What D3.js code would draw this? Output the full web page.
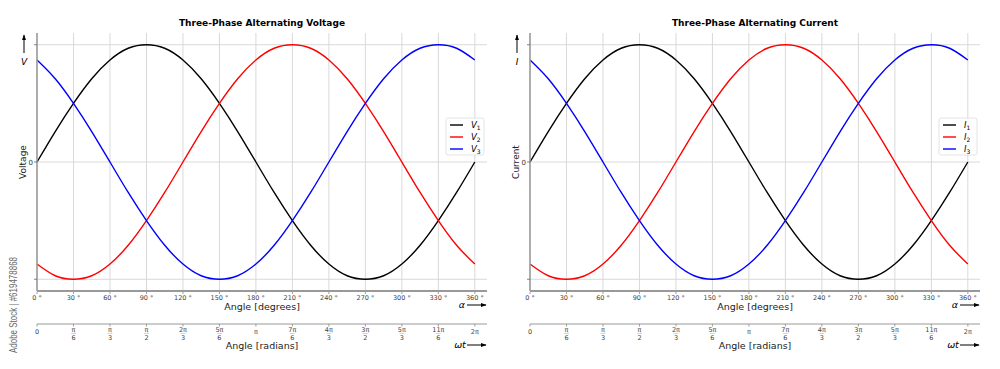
<!DOCTYPE html>
<html>
<head>
<meta charset="utf-8">
<script src="https://cdn.jsdelivr.net/npm/d3@7"></script>
<style>
  body { margin: 0; background: #fff; }
  svg { font-family: "DejaVu Sans", sans-serif; }
</style>
</head>
<body>
<script>
// angles in degrees, sampled every 15 degrees
const angles = [0, 15, 30, 45, 60, 75, 90, 105, 120, 135, 150, 165, 180,
    195, 210, 225, 240, 255, 270, 285, 300, 315, 330, 345, 360]

// values (normalised to peak = 1)
const phase1 = [0, 0.26, 0.5, 0.71, 0.87, 0.97, 1, 0.97, 0.87, 0.71, 0.5, 0.26, 0,
    -0.26, -0.5, -0.71, -0.87, -0.97, -1, -0.97, -0.87, -0.71, -0.5, -0.26, 0]
const phase2 = [-0.87, -0.97, -1, -0.97, -0.87, -0.71, -0.5, -0.26, 0, 0.26, 0.5, 0.71, 0.87,
    0.97, 1, 0.97, 0.87, 0.71, 0.5, 0.26, 0, -0.26, -0.5, -0.71, -0.87]
const phase3 = [0.87, 0.71, 0.5, 0.26, 0, -0.26, -0.5, -0.71, -0.87, -0.97, -1, -0.97, -0.87,
    -0.71, -0.5, -0.26, 0, 0.26, 0.5, 0.71, 0.87, 0.97, 1, 0.97, 0.87]

const colors = ['#000000', '#ff0000', '#0000ff']

const degTicks = [0, 30, 60, 90, 120, 150, 180, 210, 240, 270, 300, 330, 360]
const radTicks = [
    { num: '0', den: null }, { num: 'π', den: '6' }, { num: 'π', den: '3' },
    { num: 'π', den: '2' }, { num: '2π', den: '3' }, { num: '5π', den: '6' },
    { num: 'π', den: null }, { num: '7π', den: '6' }, { num: '4π', den: '3' },
    { num: '3π', den: '2' }, { num: '5π', den: '3' }, { num: '11π', den: '6' },
    { num: '2π', den: null }
]

const panels = [
    { title: 'Three-Phase Alternating Voltage', ylabel: 'Voltage', sym: 'V', left: 37 },
    { title: 'Three-Phase Alternating Current', ylabel: 'Current', sym: 'I', left: 530 }
]

const W = 1000, H = 369
const svg = d3.select('body').append('svg').attr('width', W).attr('height', H)

const defs = svg.append('defs')
defs.append('marker')
    .attr('id', 'arr')
    .attr('viewBox', '0 0 10 10')
    .attr('refX', 9).attr('refY', 5)
    .attr('markerWidth', 6).attr('markerHeight', 6)
    .attr('orient', 'auto')
    .append('path').attr('d', 'M0,1.5 L10,5 L0,8.5 Z').attr('fill', '#000')

const y = d3.scaleLinear().domain([-1.1, 1.1]).range([291, 33])

panels.forEach(p => {
    const x = d3.scaleLinear().domain([0, 370]).range([p.left, p.left + 450])
    const g = svg.append('g')
    const x0 = x.range()[0], x1 = x.range()[1]

    // grid
    g.append('g').selectAll('line').data(degTicks).enter().append('line')
        .attr('x1', d => x(d)).attr('x2', d => x(d))
        .attr('y1', y.range()[1]).attr('y2', y.range()[0])
        .attr('stroke', '#d9d9d9').attr('stroke-width', 1)
    g.append('g').selectAll('line').data([-1, 0, 1]).enter().append('line')
        .attr('x1', x0).attr('x2', x1)
        .attr('y1', d => y(d)).attr('y2', d => y(d))
        .attr('stroke', '#d9d9d9').attr('stroke-width', 1)

    // curves
    const line = d3.line()
        .x((d, i) => x(angles[i]))
        .y(d => y(d))
        .curve(d3.curveNatural)
    ;[phase1, phase2, phase3].forEach((s, i) => {
        g.append('path').datum(s)
            .attr('d', line)
            .attr('fill', 'none')
            .attr('stroke', colors[i])
            .attr('stroke-width', 1.4)
    })

    // y axis
    g.append('line').attr('x1', x0).attr('x2', x0)
        .attr('y1', y.range()[1]).attr('y2', y.range()[0])
        .attr('stroke', '#999').attr('stroke-width', 1.5)
    g.append('g').selectAll('line').data([-1, 0, 1]).enter().append('line')
        .attr('x1', x0 - 3).attr('x2', x0)
        .attr('y1', d => y(d)).attr('y2', d => y(d))
        .attr('stroke', '#666').attr('stroke-width', 0.8)
    g.append('text').attr('x', x0 - 4).attr('y', y(0) + 2.5)
        .attr('text-anchor', 'end').attr('font-size', 7).attr('fill', '#333').text('0')
    g.append('text')
        .attr('transform', `translate(${x0 - 11},${y(0)}) rotate(-90)`)
        .attr('text-anchor', 'middle').attr('font-size', 9).attr('fill', '#222')
        .text(p.ylabel)
    g.append('line').attr('x1', x0 - 13).attr('x2', x0 - 13)
        .attr('y1', 53).attr('y2', 35)
        .attr('stroke', '#000').attr('stroke-width', 1)
        .attr('marker-end', 'url(#arr)')
    g.append('text').attr('x', x0 - 13).attr('y', 65)
        .attr('text-anchor', 'middle').attr('font-size', 9)
        .attr('font-style', 'italic').text(p.sym)

    // degree axis
    g.append('line').attr('x1', x0).attr('x2', x1)
        .attr('y1', 291).attr('y2', 291)
        .attr('stroke', '#999').attr('stroke-width', 2)
    g.append('g').selectAll('line').data(degTicks).enter().append('line')
        .attr('x1', d => x(d)).attr('x2', d => x(d))
        .attr('y1', 292).attr('y2', 294)
        .attr('stroke', '#888').attr('stroke-width', 0.8)
    g.append('g').selectAll('text').data(degTicks).enter().append('text')
        .attr('x', d => x(d)).attr('y', 300)
        .attr('text-anchor', 'middle').attr('font-size', 6.5).attr('fill', '#444')
        .text(d => d + ' °')
    g.append('text').attr('x', (x0 + x1) / 2).attr('y', 310)
        .attr('text-anchor', 'middle').attr('font-size', 9.5).attr('fill', '#222')
        .text('Angle [degrees]')
    g.append('text').attr('x', x1 - 25).attr('y', 308)
        .attr('text-anchor', 'middle').attr('font-size', 9.5)
        .attr('font-style', 'italic').text('α')
    g.append('line').attr('x1', x1 - 20).attr('x2', x1 - 1)
        .attr('y1', 305).attr('y2', 305)
        .attr('stroke', '#000').attr('stroke-width', 1)
        .attr('marker-end', 'url(#arr)')

    // radian axis
    g.append('line').attr('x1', x0).attr('x2', x1)
        .attr('y1', 324).attr('y2', 324)
        .attr('stroke', '#999').attr('stroke-width', 1.2)
    g.append('g').selectAll('line').data(degTicks).enter().append('line')
        .attr('x1', d => x(d)).attr('x2', d => x(d))
        .attr('y1', 324).attr('y2', 326.5)
        .attr('stroke', '#888').attr('stroke-width', 0.8)
    const rt = g.append('g').selectAll('g').data(radTicks).enter().append('g')
        .attr('transform', (d, i) => `translate(${x(degTicks[i])},0)`)
    rt.append('text')
        .attr('y', d => d.den ? 332 : 334)
        .attr('text-anchor', 'middle').attr('font-size', 6.5).attr('fill', '#444')
        .text(d => d.num)
    rt.filter(d => d.den).append('line')
        .attr('x1', -2.5).attr('x2', 2.5).attr('y1', 333.5).attr('y2', 333.5)
        .attr('stroke', '#aaa').attr('stroke-width', 0.5)
    rt.filter(d => d.den).append('text')
        .attr('y', 340)
        .attr('text-anchor', 'middle').attr('font-size', 6.5).attr('fill', '#444')
        .text(d => d.den)
    g.append('text').attr('x', (x0 + x1) / 2).attr('y', 349)
        .attr('text-anchor', 'middle').attr('font-size', 9.5).attr('fill', '#222')
        .text('Angle [radians]')
    g.append('text').attr('x', x1 - 27).attr('y', 348)
        .attr('text-anchor', 'middle').attr('font-size', 9.5)
        .attr('font-style', 'italic').text('ωt')
    g.append('line').attr('x1', x1 - 20).attr('x2', x1 - 1)
        .attr('y1', 345).attr('y2', 345)
        .attr('stroke', '#000').attr('stroke-width', 1)
        .attr('marker-end', 'url(#arr)')

    // title
    g.append('text').attr('x', (x0 + x1) / 2).attr('y', 26)
        .attr('text-anchor', 'middle').attr('font-size', 9)
        .attr('font-weight', 'bold').text(p.title)

    // legend
    const lx = x1 - 41, ly = 118
    g.append('rect').attr('x', lx).attr('y', ly).attr('width', 38).attr('height', 37)
        .attr('rx', 2).attr('fill', '#fff').attr('fill-opacity', 0.85)
        .attr('stroke', '#ddd').attr('stroke-width', 0.8)
    ;[0, 1, 2].forEach(i => {
        const yy = ly + 7 + i * 12
        g.append('line').attr('x1', lx + 4).attr('x2', lx + 17)
            .attr('y1', yy).attr('y2', yy)
            .attr('stroke', colors[i]).attr('stroke-width', 1.4)
        const t = g.append('text').attr('x', lx + 25).attr('y', yy + 3)
            .attr('font-size', 8.5).attr('font-style', 'italic').text(p.sym)
        t.append('tspan').attr('font-size', 6).attr('font-style', 'normal')
            .attr('dy', 2).text(i + 1)
    })
})

// stock watermark label on the left edge
svg.append('text')
    .attr('transform', 'translate(17,305) rotate(-90)')
    .attr('text-anchor', 'middle').attr('font-size', 11.5).attr('fill', '#6a6a6a')
    .attr('font-family', '"Liberation Sans", sans-serif')
    .attr('textLength', 96).attr('lengthAdjust', 'spacingAndGlyphs')
    .text('Adobe Stock | #619478868')
</script>
</body>
</html>
